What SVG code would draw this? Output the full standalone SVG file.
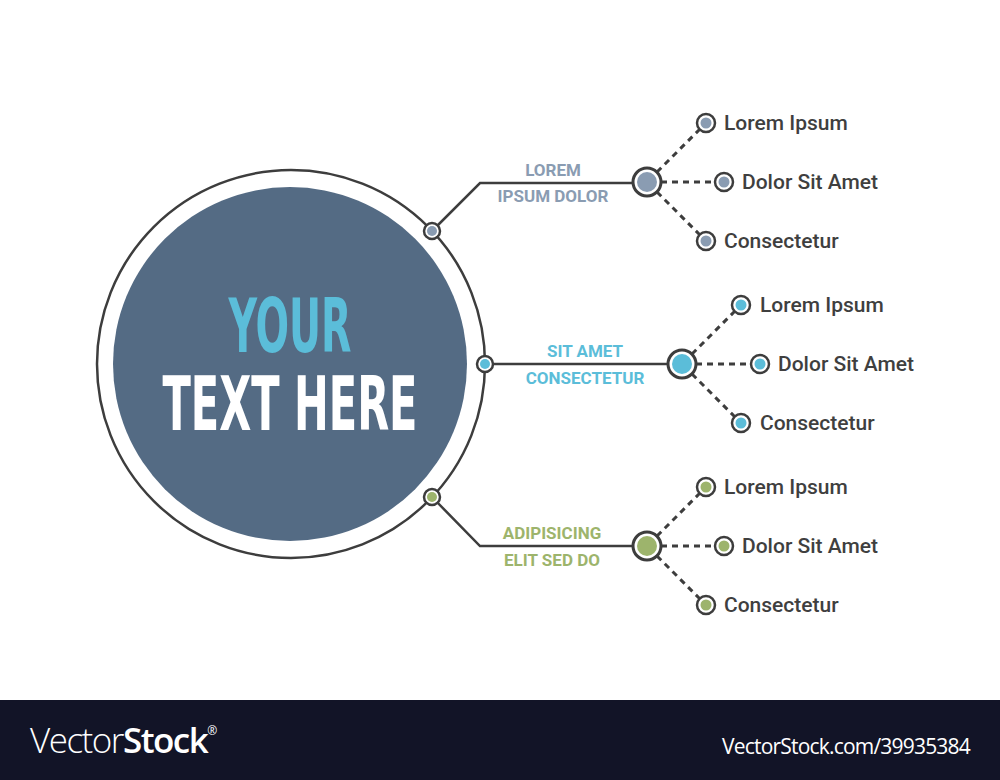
<svg xmlns="http://www.w3.org/2000/svg" width="1000" height="780" viewBox="0 0 1000 780">
<style>
.ln{fill:none;stroke:#3d3d3d;stroke-width:2.5}
.dash{fill:none;stroke:#3d3d3d;stroke-width:3;stroke-dasharray:6 5}
.ring{fill:#fff;stroke:#3d3d3d;stroke-width:2.5}
.hub{fill:#fff;stroke:#3d3d3d;stroke-width:3}
.lbl{font-family:Roboto,"Liberation Sans",sans-serif;font-weight:bold;font-size:17px;text-anchor:middle}
.leaf{font-family:Roboto,"Liberation Sans",sans-serif;font-weight:500;font-size:21px;fill:#3f3f3f}
.gb{fill:#8a9cb2}.cy{fill:#5bbdd9}.gr{fill:#9db46c}
.title{font-family:"Liberation Sans Narrow","DejaVu Sans Condensed","Liberation Sans",sans-serif;font-weight:bold;font-size:74px;text-anchor:middle}
</style>
<rect width="1000" height="780" fill="#fff"/>
<g id="connectors">
<polyline class="ln" points="432,231 480,183 634,183"/>
<polyline class="ln" points="485,364 668,364"/>
<polyline class="ln" points="432,497 480,546 634,546"/>
<line class="dash" x1="657" y1="172" x2="700" y2="129"/>
<line class="dash" x1="661" y1="182" x2="715" y2="182"/>
<line class="dash" x1="657" y1="192" x2="700" y2="235"/>
<line class="dash" x1="692" y1="354" x2="735" y2="311"/>
<line class="dash" x1="696" y1="364" x2="751" y2="364"/>
<line class="dash" x1="692" y1="374" x2="735" y2="417"/>
<line class="dash" x1="657" y1="536" x2="700" y2="493"/>
<line class="dash" x1="661" y1="546" x2="715" y2="546"/>
<line class="dash" x1="657" y1="556" x2="700" y2="599"/>
</g>
<g id="main">
<circle cx="291" cy="364" r="194" fill="#fff" stroke="#3d3d3d" stroke-width="2.5"/>
<circle cx="290" cy="364" r="177" fill="#546b84"/>
<text class="title" x="290" y="352" fill="#5bbdd9" textLength="123" lengthAdjust="spacingAndGlyphs">YOUR</text>
<text class="title" x="290" y="430" fill="#fff" textLength="255" lengthAdjust="spacingAndGlyphs">TEXT HERE</text>
</g>
<g id="branch1">
<circle class="ring" cx="432" cy="231" r="8"/><circle class="gb" cx="432" cy="231" r="5"/>
<text class="lbl gb" x="553" y="176">LOREM</text>
<text class="lbl gb" x="553" y="202">IPSUM DOLOR</text>
<circle class="hub" cx="647" cy="182" r="14"/><circle class="gb" cx="647" cy="182" r="10"/>
</g>
<g id="leaf1a"><circle class="ring" cx="706" cy="123" r="9"/><circle class="gb" cx="706" cy="123" r="5.5"/><text class="leaf" x="724" y="130">Lorem Ipsum</text></g>
<g id="leaf1b"><circle class="ring" cx="724" cy="182" r="9"/><circle class="gb" cx="724" cy="182" r="5.5"/><text class="leaf" x="742" y="189">Dolor Sit Amet</text></g>
<g id="leaf1c"><circle class="ring" cx="706" cy="241" r="9"/><circle class="gb" cx="706" cy="241" r="5.5"/><text class="leaf" x="724" y="248">Consectetur</text></g>
<g id="branch2">
<circle class="ring" cx="485" cy="364" r="8"/><circle class="cy" cx="485" cy="364" r="5"/>
<text class="lbl cy" x="585" y="357">SIT AMET</text>
<text class="lbl cy" x="585" y="384">CONSECTETUR</text>
<circle class="hub" cx="682" cy="364" r="14"/><circle class="cy" cx="682" cy="364" r="10"/>
</g>
<g id="leaf2a"><circle class="ring" cx="741" cy="305" r="9"/><circle class="cy" cx="741" cy="305" r="5.5"/><text class="leaf" x="760" y="312">Lorem Ipsum</text></g>
<g id="leaf2b"><circle class="ring" cx="760" cy="364" r="9"/><circle class="cy" cx="760" cy="364" r="5.5"/><text class="leaf" x="778" y="371">Dolor Sit Amet</text></g>
<g id="leaf2c"><circle class="ring" cx="741" cy="423" r="9"/><circle class="cy" cx="741" cy="423" r="5.5"/><text class="leaf" x="760" y="430">Consectetur</text></g>
<g id="branch3">
<circle class="ring" cx="432" cy="497" r="8"/><circle class="gr" cx="432" cy="497" r="5"/>
<text class="lbl gr" x="552" y="539">ADIPISICING</text>
<text class="lbl gr" x="552" y="566">ELIT SED DO</text>
<circle class="hub" cx="647" cy="546" r="14"/><circle class="gr" cx="647" cy="546" r="10"/>
</g>
<g id="leaf3a"><circle class="ring" cx="706" cy="487" r="9"/><circle class="gr" cx="706" cy="487" r="5.5"/><text class="leaf" x="724" y="494">Lorem Ipsum</text></g>
<g id="leaf3b"><circle class="ring" cx="724" cy="546" r="9"/><circle class="gr" cx="724" cy="546" r="5.5"/><text class="leaf" x="742" y="553">Dolor Sit Amet</text></g>
<g id="leaf3c"><circle class="ring" cx="706" cy="605" r="9"/><circle class="gr" cx="706" cy="605" r="5.5"/><text class="leaf" x="724" y="612">Consectetur</text></g>
<g id="footer">
<rect x="0" y="700" width="1000" height="80" fill="#121427"/>
<text x="30" y="753" font-family="'Open Sans','Liberation Sans',sans-serif" font-size="35" fill="#fff" letter-spacing="-1.5"><tspan font-weight="300">Vector</tspan><tspan font-weight="600">Stock</tspan><tspan font-size="12" dy="-18">®</tspan></text>
<text x="970" y="754" font-family="'Open Sans','Liberation Sans',sans-serif" font-size="21" fill="#fff" text-anchor="end" letter-spacing="-0.8">VectorStock.com/39935384</text>
</g>
</svg>
